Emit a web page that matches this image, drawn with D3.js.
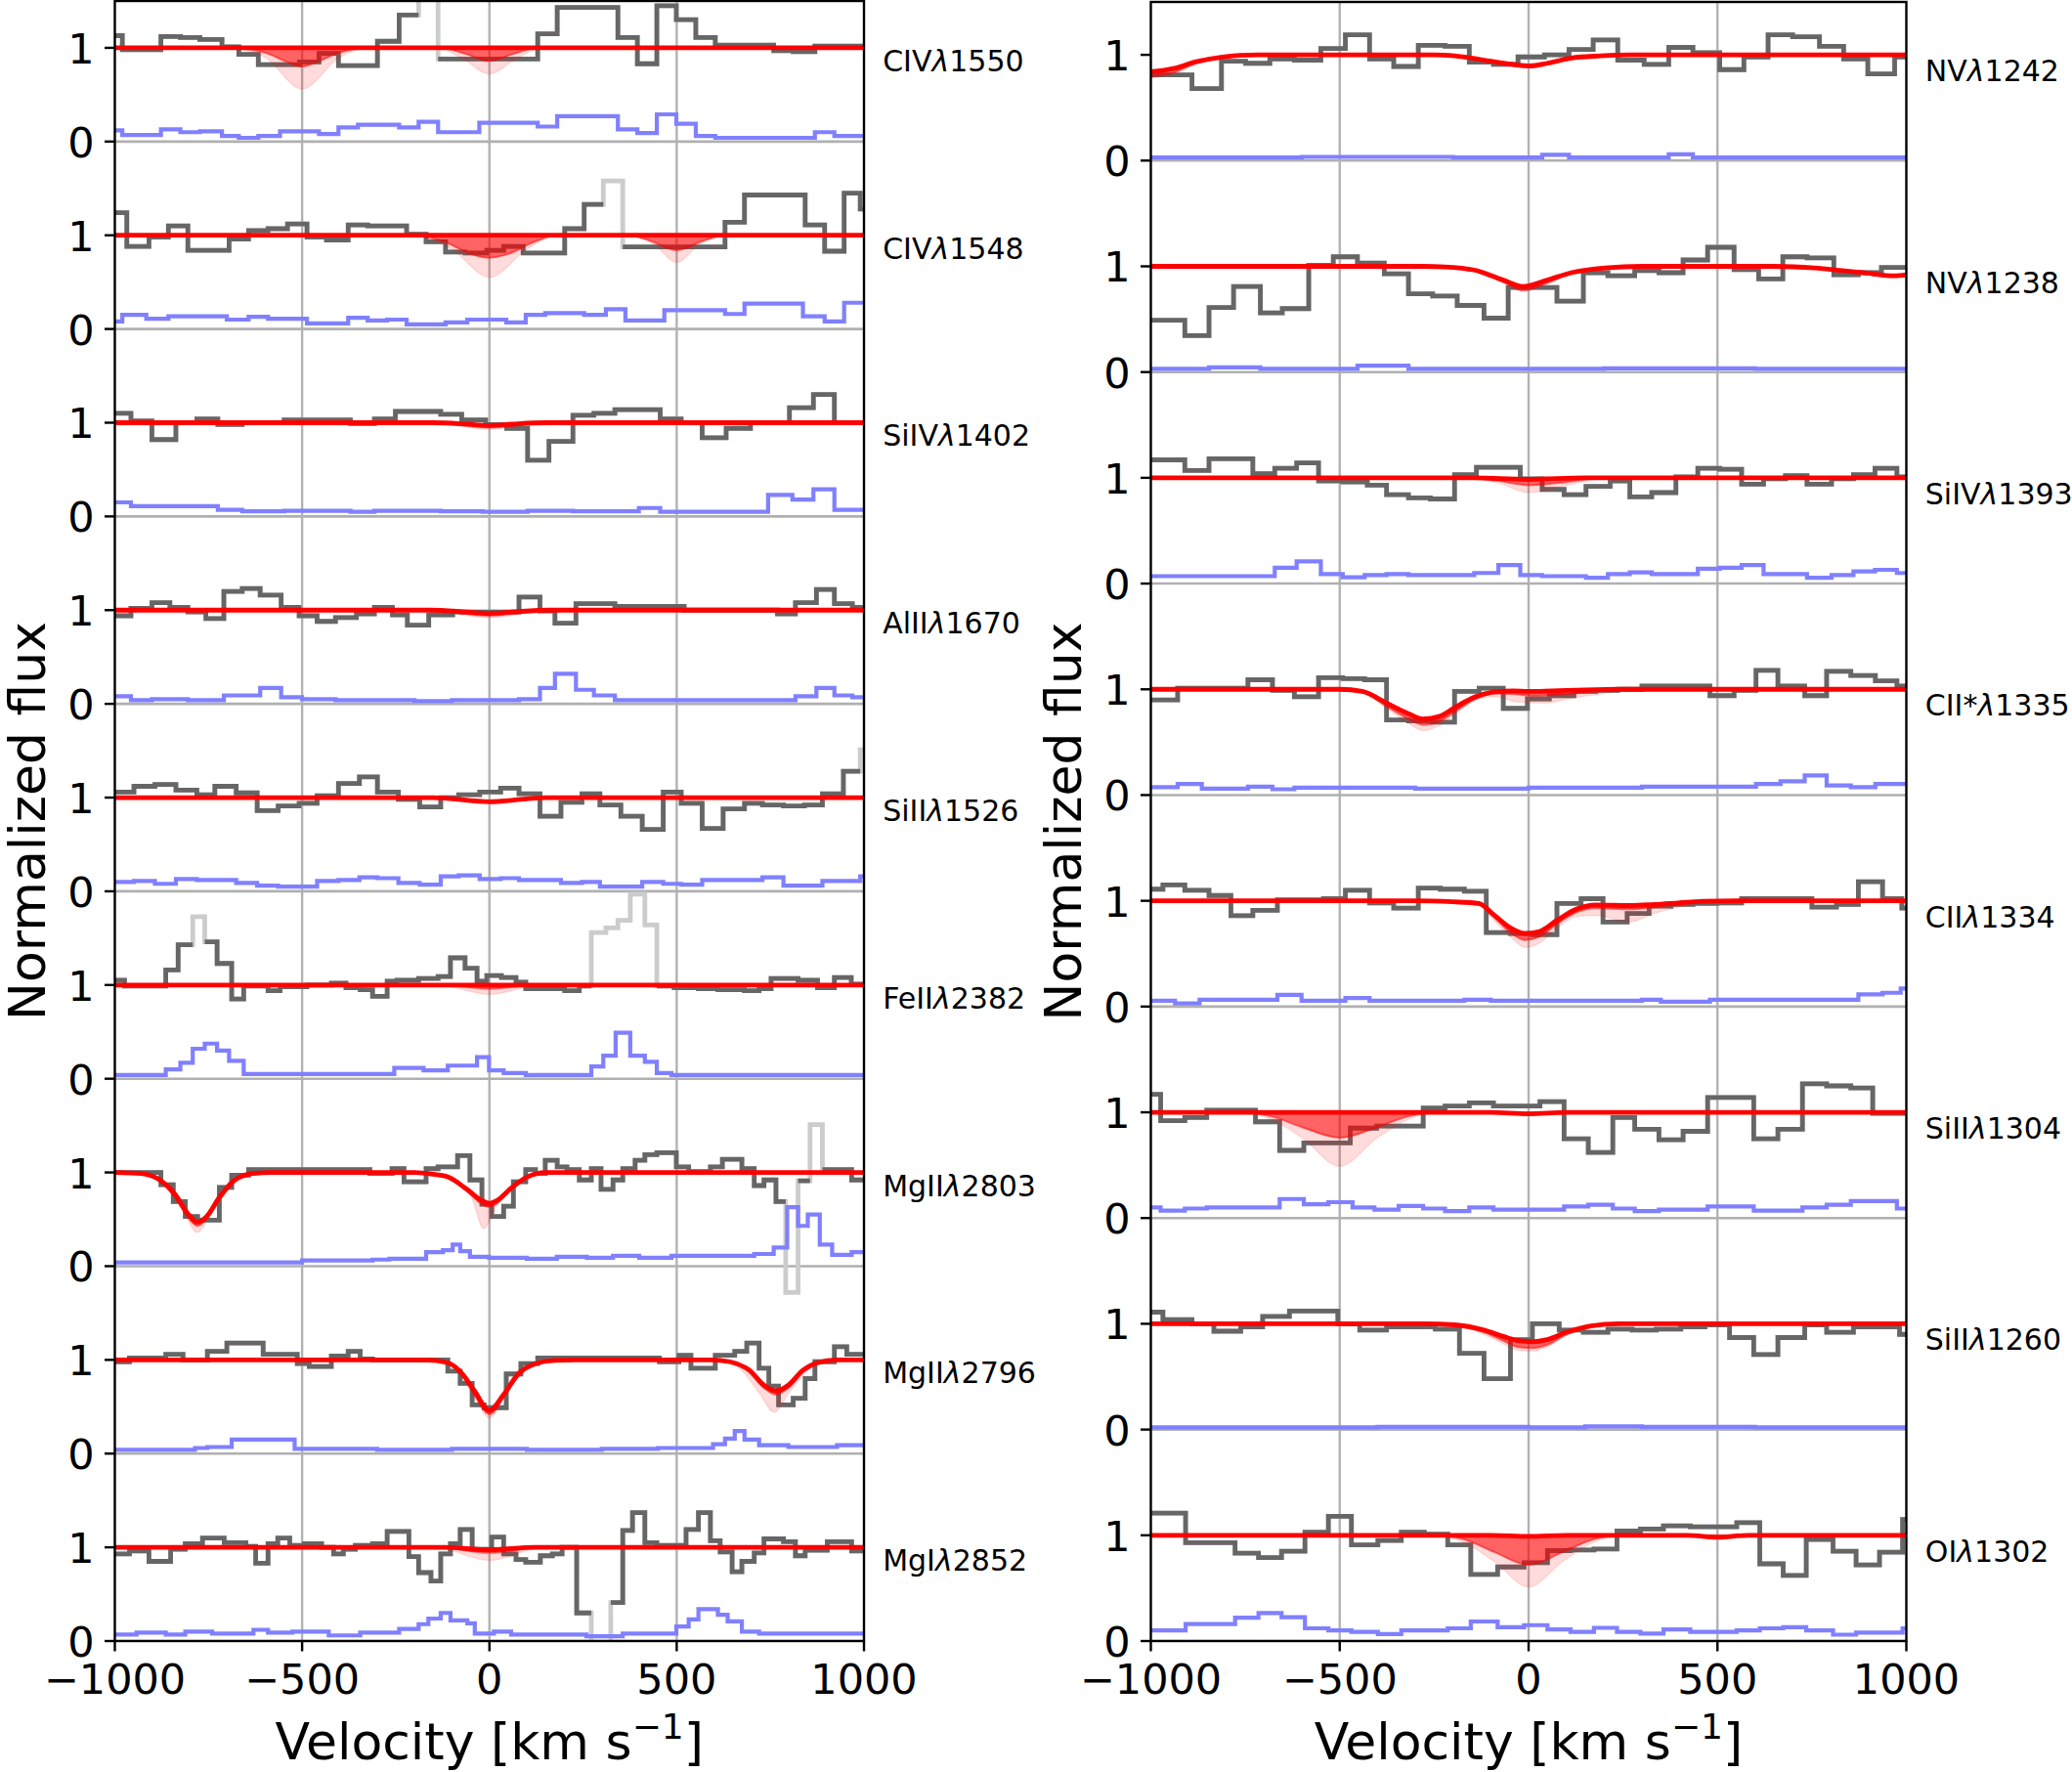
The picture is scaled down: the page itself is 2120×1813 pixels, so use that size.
<!DOCTYPE html>
<html>
<head>
<meta charset="utf-8">
<script src="https://cdn.jsdelivr.net/npm/d3@7"></script>
<style>
body { margin: 0; background: #fff; }
svg { display: block; font-family: "DejaVu Sans", sans-serif; }
</style>
</head>
<body>
<svg width="2120" height="1813"></svg>
<script>
// transitions, top to bottom
var ionsLeft = ["CIV", "CIV", "SiIV", "AlII", "SiII", "FeII", "MgII", "MgII", "MgI"];
var wavesLeft = ["1550", "1548", "1402", "1670", "1526", "2382", "2803", "2796", "2852"];
var ionsRight = ["NV", "NV", "SiIV", "CII*", "CII", "SiII", "SiII", "OI"];
var wavesRight = ["1242", "1238", "1393", "1335", "1334", "1304", "1260", "1302"];

var velocityTicks = [-1000, -500, 0, 500, 1000];
var gridVelocities = [-500, 0, 500];
var fluxTicks = [0, 1];

// flux steps: [start velocity, normalized flux, masked?]
var fluxLeft = [
  [[-1000,1.13],[-980,0.98],[-877,1.12],[-825,1.11],[-773,1.09],[-714,1.01],[-669,0.93],[-617,0.82],[-507,0.85],[-455,0.94],[-403,0.81],[-299,1.07],[-241,1.35],[-189,2.2,1],[-137,0.88],[129,1.15],[181,1.43],[343,1.11],[395,0.83],[447,1.45],[499,1.30],[551,1.11],[603,1.03],[759,0.97],[811,0.96],[869,1.02]],
  [[-1000,1.24],[-968,0.88],[-909,0.98],[-857,1.10],[-805,0.84],[-695,0.96],[-643,1.05],[-591,1.07],[-539,1.12],[-487,0.98],[-435,0.95],[-377,1.11],[-325,1.10],[-221,1.01],[-169,0.93],[-117,0.82],[-65,0.81],[-7,0.84],[38,0.88],[90,0.81],[201,1.07],[253,1.33],[304,1.58,1],[356,0.875],[629,1.14],[681,1.43],[843,1.11],[895,0.83],[947,1.45],[990,1.28]],
  [[-1000,1.10],[-957,1.02],[-901,0.82],[-837,1.0],[-781,1.04],[-725,0.98],[-660,1.0],[-548,1.03],[-371,0.99],[-307,1.04],[-251,1.12],[-130,1.09],[-74,1.03],[-10,0.98],[46,0.94],[102,0.60],[159,0.80],[223,1.08],[279,1.10],[335,1.14],[456,1.04],[512,1.0],[568,0.84],[632,0.94],[697,1.0],[801,1.16],[865,1.30],[921,1.0]],
  [[-1000,0.94],[-957,1.02],[-901,1.08],[-853,1.03],[-805,0.98],[-757,0.91],[-709,1.20],[-660,1.23],[-612,1.16],[-556,1.03],[-508,0.94],[-460,0.88],[-411,0.92],[-355,0.96],[-307,1.03],[-259,0.95],[-219,0.84],[-162,0.95],[-98,0.98],[79,1.14],[135,0.99],[175,0.86],[231,1.07],[335,1.04],[520,1.0],[769,0.96],[817,1.08],[873,1.22],[921,1.07],[969,1.03]],
  [[-1000,1.06],[-949,1.12],[-893,1.14],[-837,1.08],[-781,1.03],[-733,1.12],[-676,1.05],[-620,0.86],[-564,0.91],[-508,0.94],[-460,1.02],[-403,1.15],[-347,1.22],[-299,1.06],[-243,0.98],[-186,0.90],[-130,1.0],[-82,1.03],[-26,1.06],[30,1.10],[79,1.04],[135,0.80],[191,0.95],[247,1.04],[295,0.92],[351,0.80],[408,0.66],[464,1.06],[512,0.94],[568,0.67],[624,0.88],[681,0.94],[729,0.92],[785,0.91],[841,0.92],[889,1.04],[945,1.28],[990,1.51,1]],
  [[-1000,1.05],[-974,0.99],[-864,1.16],[-831,1.43],[-792,1.73,1],[-760,1.46],[-727,1.23],[-688,0.85],[-656,0.99],[-591,0.94],[-559,0.98],[-487,1.0],[-422,1.02],[-383,0.97],[-345,0.95],[-312,0.88],[-273,1.04],[-247,1.05],[-189,1.07],[-137,1.09],[-104,1.29],[-65,1.18],[-33,1.04],[-7,1.10],[32,1.08],[71,1.03],[97,0.96],[201,0.94],[240,0.99],[272,1.56,1],[311,1.61,1],[343,1.69,1],[376,1.97,1],[415,1.64,1],[447,0.99],[493,0.97],[558,0.96],[610,0.95],[681,0.94],[720,0.96],[752,1.07],[824,1.05],[876,0.97],[921,1.08],[966,1.01]],
  [[-1000,1.0],[-877,0.87],[-844,0.69],[-812,0.53],[-779,0.49],[-721,0.84],[-688,0.97],[-643,1.03],[-319,0.99],[-260,1.04],[-228,0.90],[-169,1.04],[-137,1.06],[-85,1.18],[-52,0.92],[-20,0.66],[6,0.53],[38,0.64],[64,0.90],[97,1.03],[123,0.99],[149,1.13],[181,1.06],[207,1.03],[240,0.92],[272,1.04],[298,0.82],[330,0.92],[356,1.04],[389,1.13],[415,1.19],[447,1.21],[499,1.06],[532,1.01],[590,1.06],[622,1.14],[674,1.04],[707,0.86],[733,0.92],[765,0.69],[791,-0.28,1],[824,0.91],[856,1.51,1],[889,1.03],[967,0.92]],
  [[-1000,0.98],[-961,1.02],[-864,1.06],[-818,1.0],[-753,1.09],[-701,1.18],[-604,1.06],[-513,0.96],[-481,0.93],[-422,1.04],[-377,1.09],[-345,1.01],[-312,1.0],[-111,0.88],[-78,0.75],[-46,0.52],[-14,0.49],[45,0.85],[84,0.96],[129,1.02],[454,0.98],[506,1.05],[538,0.91],[603,1.05],[655,1.09],[687,1.18],[720,0.91],[746,0.72],[772,0.52],[811,0.59],[843,0.80],[869,0.98],[921,1.14],[954,1.06]],
  [[-1000,0.93],[-961,0.96],[-909,0.85],[-851,0.98],[-812,1.04],[-766,1.10],[-708,1.05],[-650,1.01],[-624,0.83],[-591,1.04],[-565,1.10],[-533,1.02],[-494,1.04],[-448,1.0],[-416,0.93],[-390,0.98],[-358,1.02],[-312,1.04],[-273,1.17],[-215,0.90],[-189,0.73],[-156,0.64],[-130,0.93],[-104,1.04],[-78,1.19],[-46,0.98],[6,1.11],[38,0.93],[71,0.87],[97,0.84],[136,0.91],[168,0.93],[194,1.0],[233,0.30],[272,-0.1,1],[324,0.41],[356,1.18],[382,1.37],[415,1.05],[447,1.02],[525,1.19],[558,1.37],[590,1.07],[616,0.95],[648,0.74],[674,0.85],[707,0.94],[733,1.09],[785,1.06],[817,0.91],[843,0.97],[902,1.06],[967,0.96]]
];

var errLeft = [
  [[-1000,0.12],[-980,0.07],[-877,0.13],[-825,0.10],[-773,0.11],[-714,0.06],[-669,0.04],[-617,0.06],[-559,0.11],[-455,0.08],[-403,0.15],[-351,0.18],[-241,0.15],[-189,0.21],[-137,0.10],[-27,0.20],[129,0.16],[181,0.27],[343,0.13],[395,0.09],[447,0.29],[499,0.19],[551,0.06],[603,0.04],[869,0.10],[921,0.06]],
  [[-1000,0.08],[-980,0.15],[-916,0.11],[-857,0.135],[-701,0.10],[-643,0.13],[-591,0.11],[-487,0.06],[-377,0.12],[-325,0.09],[-273,0.10],[-221,0.05],[-117,0.07],[-59,0.10],[45,0.07],[97,0.15],[149,0.17],[253,0.15],[311,0.21],[363,0.09],[467,0.20],[629,0.16],[681,0.27],[837,0.135],[895,0.08],[947,0.28]],
  [[-1000,0.15],[-957,0.11],[-725,0.07],[-660,0.055],[-548,0.06],[-371,0.05],[-307,0.06],[-130,0.055],[-18,0.05],[102,0.06],[223,0.055],[399,0.09],[456,0.05],[744,0.23],[809,0.18],[865,0.29],[921,0.07]],
  [[-1000,0.08],[-957,0.04],[-901,0.05],[-805,0.04],[-709,0.09],[-612,0.17],[-556,0.07],[-500,0.05],[-411,0.04],[-200,0.03],[-100,0.04],[79,0.05],[135,0.17],[175,0.32],[231,0.15],[279,0.09],[335,0.04],[817,0.08],[873,0.17],[921,0.09],[969,0.07]],
  [[-1000,0.10],[-949,0.11],[-893,0.08],[-837,0.13],[-781,0.12],[-676,0.09],[-620,0.06],[-564,0.05],[-460,0.11],[-403,0.12],[-347,0.15],[-299,0.14],[-243,0.09],[-186,0.07],[-130,0.16],[-82,0.17],[-26,0.13],[30,0.14],[79,0.12],[191,0.09],[247,0.10],[295,0.05],[408,0.10],[464,0.08],[512,0.07],[568,0.12],[729,0.15],[785,0.06],[889,0.11],[990,0.16]],
  [[-1000,0.04],[-864,0.10],[-825,0.17],[-792,0.32],[-760,0.375],[-727,0.30],[-695,0.19],[-656,0.05],[-254,0.115],[-176,0.09],[-111,0.14],[-33,0.23],[-1,0.09],[38,0.06],[97,0.04],[272,0.13],[304,0.245],[337,0.49],[376,0.245],[415,0.18],[447,0.06],[486,0.04]],
  [[-1000,0.04],[-500,0.06],[-312,0.07],[-267,0.08],[-169,0.15],[-124,0.17],[-98,0.23],[-78,0.16],[-52,0.10],[-1,0.09],[100,0.08],[180,0.10],[260,0.09],[330,0.11],[400,0.09],[486,0.11],[707,0.13],[759,0.20],[795,0.63],[824,0.43],[850,0.55],[882,0.23],[915,0.12],[967,0.15]],
  [[-1000,0.04],[-786,0.06],[-753,0.07],[-688,0.15],[-520,0.05],[-300,0.04],[-100,0.05],[100,0.04],[300,0.05],[450,0.06],[597,0.10],[629,0.16],[655,0.24],[681,0.15],[720,0.09],[798,0.07],[928,0.09]],
  [[-1000,0.07],[-942,0.09],[-864,0.07],[-812,0.10],[-740,0.08],[-630,0.12],[-591,0.09],[-526,0.10],[-429,0.06],[-345,0.09],[-241,0.13],[-189,0.18],[-163,0.24],[-130,0.30],[-104,0.22],[-59,0.19],[-39,0.08],[12,0.10],[58,0.07],[259,0.05],[356,0.08],[499,0.155],[532,0.23],[558,0.34],[610,0.28],[636,0.21],[674,0.10],[720,0.08]]
];

// model: best fit, dense sample envelope, faint sample envelope
var modelLeft = [
  [[-1000,1],[1000,1]],
  [[-1000,1],[1000,1]],
  [[-1000,1],[-150,1],[-60,0.985],[0,0.97],[60,0.985],[150,1],[1000,1]],
  [[-1000,1],[-160,1],[-60,0.98],[0,0.965],[60,0.98],[160,1],[1000,1]],
  [[-1000,1],[-150,1],[0,0.955],[150,1],[1000,1]],
  [[-1000,1],[1000,1]],
  [[-1000,1],[-930,0.99],[-880,0.92],[-840,0.77],[-805,0.56],[-780,0.47],[-755,0.53],[-720,0.74],[-680,0.92],[-630,0.99],[-580,1],[-200,1],[-150,0.98],[-110,0.95],[-60,0.82],[-20,0.70],[0,0.67],[20,0.70],[60,0.84],[100,0.95],[150,1],[1000,1]],
  [[-1000,1],[-170,1],[-111,0.97],[-72,0.85],[-40,0.67],[0,0.46],[38,0.63],[77,0.85],[123,0.96],[175,0.995],[230,1],[590,1],[642,0.98],[694,0.89],[733,0.73],[765,0.67],[798,0.73],[837,0.89],[876,0.97],[928,1],[1000,1]],
  [[-1000,1],[-120,1],[0,0.975],[120,1],[1000,1]]
];
var denseLeft = [
  [[-1000,1],[-690,1],[-600,0.95],[-540,0.85],[-500,0.80],[-460,0.85],[-400,0.95],[-330,1],[-130,1],[-60,0.93],[0,0.86],[60,0.93],[130,1],[1000,1]],
  [[-1000,1],[-210,1],[-120,0.93],[-50,0.80],[0,0.76],[50,0.80],[120,0.93],[180,1],[370,1],[430,0.94],[500,0.84],[570,0.94],[630,1],[1000,1]],
  [[-1000,1],[-150,1],[0,0.95],[150,1],[1000,1]],
  [[-1000,1],[-170,1],[0,0.94],[150,1],[1000,1]],
  null,
  [[-1000,1],[-130,1],[0,0.96],[130,1],[1000,1]],
  [[-1000,1],[-930,0.99],[-880,0.91],[-840,0.74],[-805,0.52],[-780,0.43],[-755,0.50],[-720,0.71],[-680,0.90],[-630,0.99],[-580,1],[-200,1],[-150,0.98],[-110,0.94],[-60,0.80],[-20,0.66],[0,0.63],[20,0.67],[60,0.82],[100,0.94],[150,1],[1000,1]],
  [[-1000,1],[-170,1],[-111,0.96],[-72,0.83],[-40,0.63],[0,0.42],[38,0.60],[77,0.83],[123,0.95],[175,0.99],[230,1],[590,1],[642,0.97],[694,0.87],[733,0.70],[765,0.63],[798,0.70],[837,0.87],[876,0.96],[928,1],[1000,1]],
  [[-1000,1],[-140,1],[0,0.94],[140,1],[1000,1]]
];
var faintLeft = [
  [[-1000,1],[-700,1],[-600,0.9],[-500,0.56],[-400,0.9],[-320,1],[-140,1],[-70,0.88],[0,0.72],[70,0.88],[140,1],[1000,1]],
  [[-1000,1],[-210,1],[-100,0.85],[0,0.55],[100,0.85],[180,1],[370,1],[440,0.9],[500,0.71],[560,0.9],[630,1],[1000,1]],
  [[-1000,1],[-160,1],[0,0.93],[160,1],[1000,1]],
  [[-1000,1],[-170,1],[0,0.92],[160,1],[1000,1]],
  null,
  [[-1000,1],[-140,1],[0,0.90],[140,1],[1000,1]],
  [[-1000,1],[-930,0.99],[-870,0.88],[-820,0.6],[-780,0.36],[-740,0.6],[-690,0.9],[-630,1],[-200,1],[-120,0.95],[-50,0.75],[-15,0.40],[20,0.65],[80,0.92],[150,1],[1000,1]],
  [[-1000,1],[-170,1],[-100,0.93],[-40,0.6],[0,0.38],[40,0.6],[100,0.9],[175,0.99],[230,1],[590,1],[660,0.93],[720,0.65],[760,0.44],[800,0.65],[860,0.92],[928,1],[1000,1]],
  [[-1000,1],[-150,1],[0,0.86],[150,1],[1000,1]]
];

var fluxRight = [
  [[-1000,0.81],[-891,0.68],[-813,0.94],[-749,0.92],[-685,0.96],[-620,0.95],[-550,1.06],[-485,1.19],[-421,0.96],[-357,0.89],[-292,1.09],[-221,1.08],[-157,0.93],[-93,0.91],[-28,0.98],[42,1.0],[107,1.05],[171,1.14],[236,0.95],[306,0.91],[371,1.07],[435,1.02],[506,0.86],[570,0.98],[634,1.19],[699,1.17],[770,1.08],[834,0.96],[898,0.82],[969,0.98]],
  [[-1000,0.49],[-910,0.345],[-846,0.61],[-781,0.81],[-710,0.56],[-652,0.60],[-582,1.01],[-517,1.09],[-453,1.03],[-382,0.93],[-318,0.74],[-254,0.72],[-189,0.63],[-118,0.51],[-54,0.80],[75,0.67],[145,0.94],[210,0.91],[281,0.96],[345,0.94],[409,1.06],[474,1.18],[544,0.97],[609,0.88],[673,1.09],[737,1.08],[808,0.92],[873,0.94],[934,0.99]],
  [[-1000,1.17],[-910,1.07],[-846,1.18],[-730,1.04],[-672,1.09],[-614,1.14],[-556,0.97],[-492,0.96],[-427,0.93],[-376,0.84],[-318,0.81],[-260,0.80],[-196,1.03],[-138,1.10],[-22,0.99],[36,0.89],[94,0.84],[152,0.92],[216,0.97],[268,0.82],[326,0.86],[390,1.01],[448,1.09],[506,1.08],[564,0.94],[622,0.99],[680,1.02],[737,0.94],[802,0.99],[860,1.03],[917,1.09],[975,1.01]],
  [[-1000,0.90],[-929,1.01],[-807,1.01],[-743,1.09],[-678,0.99],[-620,0.93],[-556,1.11],[-492,1.10],[-434,1.09],[-376,0.71],[-318,0.70],[-254,0.69],[-196,0.98],[-131,1.01],[-67,0.82],[-3,0.91],[55,0.94],[120,0.98],[178,0.99],[236,1.0],[300,1.03],[480,0.94],[544,0.99],[602,1.18],[660,1.03],[731,0.94],[789,1.17],[853,1.13],[918,1.08],[975,1.03]],
  [[-1000,1.11],[-968,1.15],[-910,1.10],[-846,1.05],[-788,0.86],[-730,0.91],[-665,1.01],[-543,1.02],[-485,1.10],[-421,0.98],[-357,0.93],[-292,1.12],[-234,1.11],[-170,1.09],[-112,0.70],[-48,0.69],[10,0.68],[75,0.975],[139,1.02],[197,0.80],[261,0.88],[319,0.95],[377,0.965],[435,0.975],[499,0.98],[564,1.02],[750,0.94],[815,0.965],[873,1.18],[937,1.02],[988,0.93]],
  [[-1000,1.17],[-974,0.92],[-910,0.95],[-852,1.02],[-723,0.91],[-659,0.64],[-595,0.71],[-472,0.85],[-402,0.87],[-279,1.04],[-221,1.06],[-157,1.09],[-93,1.06],[30,1.10],[94,0.75],[158,0.62],[223,0.95],[281,0.84],[345,0.74],[409,0.82],[474,1.14],[596,0.75],[660,0.84],[725,1.27],[789,1.25],[853,1.23],[911,0.99]],
  [[-1000,1.11],[-968,1.04],[-891,1.0],[-833,0.93],[-762,0.97],[-704,1.07],[-633,1.12],[-505,1.0],[-447,0.94],[-376,0.97],[-247,0.95],[-183,0.72],[-118,0.48],[-48,0.85],[10,1.0],[81,0.94],[145,0.92],[210,0.95],[274,0.94],[338,0.95],[403,0.97],[467,0.99],[532,0.87],[596,0.71],[660,0.87],[731,0.99],[789,0.92],[860,0.97],[982,0.90]],
  [[-1000,1.21],[-908,0.93],[-777,0.83],[-715,0.79],[-654,0.85],[-592,1.03],[-530,1.18],[-469,0.91],[-399,0.95],[-337,1.03],[-276,1.01],[-214,0.91],[-153,0.63],[-82,0.70],[-12,0.74],[50,0.855],[111,0.86],[173,0.87],[234,1.04],[296,1.06],[357,1.09],[428,1.08],[551,1.12],[612,0.73],[674,0.62],[735,0.96],[806,0.85],[867,0.72],[929,0.84],[990,1.15]]
];

var errRight = [
  [[-1000,0.03],[-600,0.035],[-200,0.03],[36,0.055],[107,0.03],[371,0.06],[435,0.03]],
  [[-1000,0.03],[-846,0.045],[-710,0.03],[-453,0.06],[-318,0.03],[200,0.035],[600,0.03]],
  [[-1000,0.07],[-672,0.15],[-614,0.21],[-550,0.09],[-492,0.06],[-434,0.08],[-376,0.09],[-318,0.08],[-144,0.10],[-80,0.175],[-22,0.08],[36,0.07],[152,0.055],[210,0.09],[268,0.105],[326,0.09],[448,0.14],[506,0.15],[564,0.175],[622,0.09],[737,0.055],[802,0.08],[860,0.115],[917,0.13],[975,0.10]],
  [[-1000,0.075],[-929,0.105],[-865,0.06],[-743,0.08],[-678,0.055],[-620,0.07],[-300,0.06],[0,0.07],[300,0.08],[602,0.105],[667,0.13],[731,0.185],[789,0.09],[853,0.075],[918,0.105]],
  [[-1000,0.055],[-936,0.03],[-871,0.065],[-665,0.11],[-601,0.055],[-485,0.08],[-421,0.055],[-170,0.065],[-100,0.055],[300,0.065],[350,0.046],[480,0.065],[873,0.115],[937,0.13],[985,0.17]],
  [[-1000,0.10],[-974,0.07],[-910,0.09],[-852,0.10],[-659,0.18],[-595,0.13],[-530,0.15],[-466,0.10],[-408,0.08],[-344,0.115],[-279,0.09],[-221,0.065],[-157,0.10],[-93,0.08],[94,0.11],[158,0.125],[223,0.09],[281,0.065],[345,0.08],[474,0.11],[596,0.07],[725,0.10],[789,0.125],[853,0.16],[975,0.09]],
  [[-1000,0.02],[-400,0.025],[0,0.02],[150,0.03],[300,0.025],[600,0.02]],
  [[-1000,0.10],[-908,0.16],[-777,0.22],[-715,0.265],[-654,0.225],[-592,0.12],[-530,0.10],[-469,0.086],[-399,0.065],[-337,0.10],[-214,0.12],[-153,0.185],[-82,0.13],[-12,0.15],[50,0.11],[111,0.086],[173,0.125],[234,0.086],[296,0.07],[357,0.11],[428,0.086],[551,0.10],[612,0.12],[674,0.13],[735,0.10],[806,0.06],[867,0.08],[990,0.12]]
];

var modelRight = [
  [[-1000,0.84],[-940,0.87],[-880,0.935],[-810,0.98],[-720,1],[-250,1],[-196,0.99],[-118,0.95],[-41,0.91],[4,0.895],[49,0.92],[113,0.97],[190,0.99],[268,1],[1000,1]],
  [[-1000,1],[-280,1],[-221,0.995],[-144,0.965],[-67,0.87],[-15,0.81],[49,0.87],[113,0.94],[203,0.985],[300,1],[650,1],[757,0.985],[830,0.96],[885,0.94],[969,0.91],[1000,0.92]],
  [[-1000,1],[-150,1],[0,0.985],[150,1],[1000,1]],
  [[-1000,1],[-500,1],[-440,0.98],[-376,0.87],[-318,0.77],[-279,0.72],[-235,0.745],[-190,0.84],[-140,0.93],[-90,0.975],[-40,0.985],[0,0.98],[60,0.985],[150,0.995],[250,1],[1000,1]],
  [[-1000,1],[-300,1],[-200,0.99],[-131,0.975],[-93,0.87],[-48,0.745],[-9,0.69],[29,0.71],[75,0.815],[126,0.92],[178,0.96],[268,0.955],[332,0.965],[396,0.98],[460,0.995],[550,1],[1000,1]],
  [[-1000,1],[-100,1],[0,0.985],[100,1],[1000,1]],
  [[-1000,1],[-280,1],[-196,0.99],[-118,0.94],[-67,0.88],[-28,0.84],[10,0.83],[49,0.85],[100,0.92],[165,0.98],[240,1],[1000,1]],
  [[-1000,1],[-100,1],[0,0.99],[100,1],[420,1],[500,0.98],[580,1],[1000,1]]
];
var denseRight = [
  [[-1000,0.79],[-940,0.83],[-880,0.92],[-810,0.975],[-720,1],[-250,1],[-196,0.985],[-118,0.94],[-41,0.895],[4,0.88],[49,0.905],[113,0.96],[190,0.985],[268,1],[1000,1]],
  [[-1000,1],[-280,1],[-221,0.99],[-144,0.955],[-67,0.85],[-15,0.77],[49,0.84],[113,0.93],[203,0.98],[300,1],[650,1],[757,0.98],[830,0.955],[885,0.93],[969,0.90],[1000,0.91]],
  [[-1000,1],[-170,1],[-80,0.97],[0,0.93],[100,0.96],[200,1],[1000,1]],
  [[-1000,1],[-500,1],[-440,0.975],[-376,0.84],[-318,0.72],[-279,0.665],[-235,0.70],[-190,0.80],[-140,0.91],[-90,0.96],[-40,0.955],[20,0.94],[80,0.95],[150,0.97],[250,0.995],[320,1],[1000,1]],
  [[-1000,1],[-300,1],[-200,0.985],[-131,0.965],[-93,0.85],[-48,0.70],[-9,0.63],[29,0.66],[75,0.78],[126,0.89],[178,0.93],[268,0.92],[332,0.94],[396,0.965],[460,0.99],[550,1],[1000,1]],
  [[-1000,1],[-760,1],[-680,0.96],[-600,0.86],[-500,0.76],[-400,0.86],[-320,0.96],[-250,1],[1000,1]],
  [[-1000,1],[-280,1],[-196,0.985],[-118,0.92],[-67,0.84],[-28,0.78],[10,0.77],[49,0.80],[100,0.90],[165,0.97],[240,1],[1000,1]],
  [[-1000,1],[-250,1],[-170,0.96],[-90,0.84],[0,0.72],[90,0.84],[170,0.96],[250,1],[1000,1]]
];
var faintRight = [
  null,
  null,
  [[-1000,1],[-190,1],[-80,0.95],[0,0.86],[100,0.93],[220,1],[1000,1]],
  [[-1000,1],[-500,1],[-440,0.97],[-376,0.82],[-318,0.68],[-279,0.61],[-235,0.66],[-190,0.78],[-140,0.9],[-90,0.93],[-30,0.88],[40,0.87],[120,0.92],[200,0.96],[300,1],[1000,1]],
  [[-1000,1],[-300,1],[-200,0.98],[-131,0.95],[-93,0.82],[-48,0.66],[-9,0.56],[29,0.60],[75,0.74],[126,0.85],[178,0.86],[268,0.80],[332,0.88],[396,0.94],[460,0.98],[550,1],[1000,1]],
  [[-1000,1],[-760,1],[-680,0.93],[-600,0.76],[-500,0.49],[-400,0.76],[-320,0.93],[-250,1],[1000,1]],
  [[-1000,1],[-280,1],[-196,0.98],[-118,0.90],[-67,0.81],[-28,0.75],[10,0.74],[49,0.78],[100,0.89],[165,0.97],[240,1],[1000,1]],
  [[-1000,1],[-260,1],[-170,0.93],[-90,0.75],[0,0.51],[90,0.75],[170,0.93],[260,1],[1000,1]]
];

var svg = d3.select("svg");

drawPanel({ id: "clipL", left: 117.5, right: 884, top: 1, bottom: 1679, ylab: 46,
  ions: ionsLeft, waves: wavesLeft, flux: fluxLeft, err: errLeft,
  model: modelLeft, dense: denseLeft, faint: faintLeft });
drawPanel({ id: "clipR", left: 1177.5, right: 1950.5, top: 2, bottom: 1679, ylab: 1106,
  ions: ionsRight, waves: wavesRight, flux: fluxRight, err: errRight,
  model: modelRight, dense: denseRight, faint: faintRight });

function stepPoints(bins) {
  var pts = [];
  bins.forEach(function(b, i) {
    var end = i < bins.length - 1 ? bins[i + 1][0] : 1000;
    var masked = b[2] === 1;
    pts.push({ v: b[0], f: b[1], m: masked });
    pts.push({ v: end, f: b[1], m: masked });
  });
  return pts;
}

function drawPanel(p) {
  var n = p.ions.length;
  var x = d3.scaleLinear().domain([-1000, 1000]).range([p.left, p.right]);
  var y = d3.scaleLinear().domain([0, 2 * n - 0.5]).range([p.bottom, p.top]);

  var g = svg.append("g");
  g.append("clipPath").attr("id", p.id).append("rect")
    .attr("x", p.left).attr("y", p.top)
    .attr("width", p.right - p.left).attr("height", p.bottom - p.top);
  var plot = g.append("g").attr("clip-path", "url(#" + p.id + ")");

  plot.selectAll("line.grid").data(gridVelocities).join("line")
    .attr("class", "grid")
    .attr("x1", function(d) { return x(d); }).attr("x2", function(d) { return x(d); })
    .attr("y1", p.top).attr("y2", p.bottom)
    .attr("stroke", "#000").attr("stroke-opacity", 0.3).attr("stroke-width", 2.4);

  var yTicks = [];

  p.ions.forEach(function(ion, i) {
    var off = 2 * (n - 1 - i);
    fluxTicks.forEach(function(t) { yTicks.push({ v: off + t, label: t }); });

    var step = d3.line().x(function(d) { return x(d.v); }).y(function(d) { return y(d.f + off); });
    var smooth = d3.line().x(function(d) { return x(d[0]); }).y(function(d) { return y(d[1] + off); })
      .curve(d3.curveMonotoneX);
    function band(upper, lower) {
      return smooth(lower) + "L" + smooth(upper.slice().reverse()).slice(1) + "Z";
    }

    plot.append("line")
      .attr("x1", p.left).attr("x2", p.right)
      .attr("y1", y(off)).attr("y2", y(off))
      .attr("stroke", "#b0b0b0").attr("stroke-width", 2.6);

    var pts = stepPoints(p.flux[i]);
    plot.append("path").attr("d", step(pts))
      .attr("fill", "none").attr("stroke", "#cccccc").attr("stroke-width", 4.8);
    plot.append("path").attr("d", step.defined(function(d) { return !d.m; })(pts))
      .attr("fill", "none").attr("stroke", "#666666").attr("stroke-width", 4.8);

    plot.append("path").attr("d", d3.line().x(function(d) { return x(d.v); })
        .y(function(d) { return y(d.f + off); })(stepPoints(p.err[i])))
      .attr("fill", "none").attr("stroke", "#8080ff").attr("stroke-width", 4.2);

    if (p.faint[i]) {
      plot.append("path").attr("d", band(p.model[i], p.faint[i]))
        .attr("fill", "#ff0000").attr("fill-opacity", 0.14)
        .attr("stroke", "#ff0000").attr("stroke-opacity", 0.1).attr("stroke-width", 1.5);
    }
    if (p.dense[i]) {
      plot.append("path").attr("d", band(p.model[i], p.dense[i]))
        .attr("fill", "#ff0000").attr("fill-opacity", 0.55)
        .attr("stroke", "#ff0000").attr("stroke-opacity", 0.5).attr("stroke-width", 2);
    }
    plot.append("path").attr("d", smooth(p.model[i]))
      .attr("fill", "none").attr("stroke", "#ff0000").attr("stroke-width", 4.8);

    var label = g.append("text")
      .attr("x", x(1050)).attr("y", y(off + 0.75))
      .attr("font-size", 30).attr("fill", "#000");
    label.append("tspan").text(ion);
    label.append("tspan").attr("font-style", "italic").text("λ");
    label.append("tspan").text(p.waves[i]);
  });

  // y ticks
  g.selectAll("line.ytick").data(yTicks).join("line")
    .attr("class", "ytick")
    .attr("x1", p.left - 10.5).attr("x2", p.left)
    .attr("y1", function(d) { return y(d.v); }).attr("y2", function(d) { return y(d.v); })
    .attr("stroke", "#000").attr("stroke-width", 2.4);
  g.selectAll("text.ytick").data(yTicks).join("text")
    .attr("class", "ytick")
    .attr("x", p.left - 21).attr("y", function(d) { return y(d.v) + 16; })
    .attr("text-anchor", "end").attr("font-size", 43)
    .text(function(d) { return d.label; });

  // x ticks
  g.selectAll("line.xtick").data(velocityTicks).join("line")
    .attr("class", "xtick")
    .attr("x1", function(d) { return x(d); }).attr("x2", function(d) { return x(d); })
    .attr("y1", p.bottom).attr("y2", p.bottom + 10.5)
    .attr("stroke", "#000").attr("stroke-width", 2.4);
  g.selectAll("text.xtick").data(velocityTicks).join("text")
    .attr("class", "xtick")
    .attr("x", function(d) { return x(d); }).attr("y", p.bottom + 54)
    .attr("text-anchor", "middle").attr("font-size", 43)
    .text(function(d) { return d < 0 ? "\u2212" + Math.abs(d) : d; });

  g.append("rect")
    .attr("x", p.left).attr("y", p.top)
    .attr("width", p.right - p.left).attr("height", p.bottom - p.top)
    .attr("fill", "none").attr("stroke", "#000").attr("stroke-width", 2.4);

  var xl = g.append("text")
    .attr("x", (p.left + p.right) / 2).attr("y", 1800)
    .attr("text-anchor", "middle").attr("font-size", 52);
  xl.append("tspan").text("Velocity [km s");
  xl.append("tspan").attr("font-size", 36).attr("dy", -21).text("\u22121");
  xl.append("tspan").attr("dy", 21).text("]");

  g.append("text")
    .attr("transform", "translate(" + p.ylab + "," + (p.top + p.bottom) / 2 + ") rotate(-90)")
    .attr("text-anchor", "middle").attr("font-size", 52)
    .text("Normalized flux");
}
</script>
</body>
</html>
